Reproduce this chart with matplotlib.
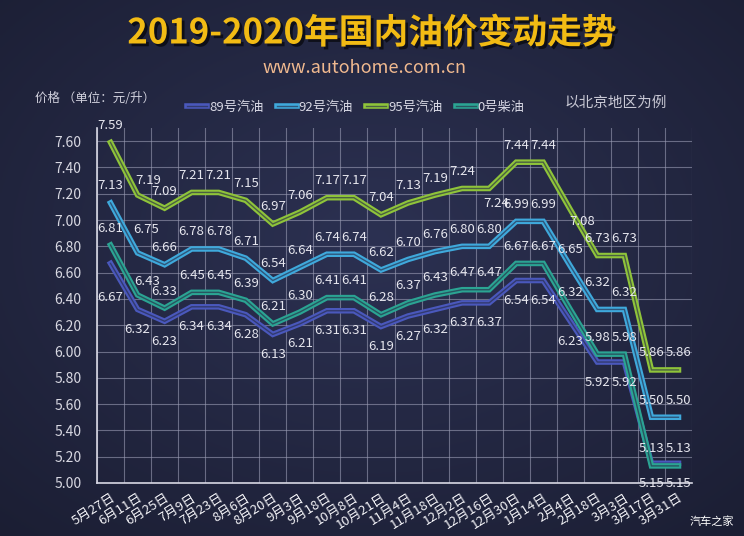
import numpy as np
import matplotlib
matplotlib.use('Agg')
import matplotlib.pyplot as plt
import matplotlib.patheffects as pe
from matplotlib.colors import to_rgb

plt.rcParams['font.family'] = ['Noto Sans CJK SC', 'DejaVu Sans']

dates = ['5月27日', '6月11日', '6月25日', '7月9日', '7月23日', '8月6日', '8月20日',
         '9月3日', '9月18日', '10月8日', '10月21日', '11月4日', '11月18日', '12月2日',
         '12月16日', '12月30日', '1月14日', '2月4日', '2月18日', '3月3日', '3月17日', '3月31日']

p89 = [6.67, 6.32, 6.23, 6.34, 6.34, 6.28, 6.13, 6.21, 6.31, 6.31, 6.19,
       6.27, 6.32, 6.37, 6.37, 6.54, 6.54, 6.23, 5.92, 5.92, 5.15, 5.15]
p92 = [7.13, 6.75, 6.66, 6.78, 6.78, 6.71, 6.54, 6.64, 6.74, 6.74, 6.62,
       6.70, 6.76, 6.80, 6.80, 6.99, 6.99, 6.65, 6.32, 6.32, 5.50, 5.50]
p95 = [7.59, 7.19, 7.09, 7.21, 7.21, 7.15, 6.97, 7.06, 7.17, 7.17, 7.04,
       7.13, 7.19, 7.24, 7.24, 7.44, 7.44, 7.08, 6.73, 6.73, 5.86, 5.86]
p0 = [6.81, 6.43, 6.33, 6.45, 6.45, 6.39, 6.21, 6.30, 6.41, 6.41, 6.28,
      6.37, 6.43, 6.47, 6.47, 6.67, 6.67, 6.32, 5.98, 5.98, 5.13, 5.13]

series = [('89号汽油', p89, '#4a58bc', -20),
          ('92号汽油', p92, '#3fa9dc', 17),
          ('95号汽油', p95, '#8fc43a', 17),
          ('0号柴油', p0, '#2ba493', 17)]

# label nudges (pixels) where the original layout moved labels
nudge = {('95号汽油', 1): (11, 15), ('92号汽油', 1): (9, 23), ('0号柴油', 1): (10, 13),
         ('95号汽油', 17): (12, -12), ('95号汽油', 14): (7, -15),
         ('89号汽油', 0): (0, -34), ('92号汽油', 18): (0, 27)}

bg = '#252a45'
fig = plt.figure(figsize=(7.44, 5.36), dpi=100, facecolor=bg)

# soft vignette background
bax = fig.add_axes([0, 0, 1, 1], zorder=-10)
yy, xx = np.mgrid[0:1:200j, 0:1:280j]
r = np.sqrt((xx - 0.5) ** 2 + (yy - 0.45) ** 2)
c1 = np.array(to_rgb('#2c3152'))
c2 = np.array(to_rgb('#1b1e33'))
t = np.clip(r / 0.75, 0, 1)[..., None]
bax.imshow(c1 * (1 - t) + c2 * t, aspect='auto', extent=(0, 1, 0, 1))
bax.axis('off')

ax = fig.add_axes([97 / 744, 53 / 536, 595 / 744, 355 / 536])
ax.set_facecolor('none')
x = np.arange(len(dates))

for name, vals, col, dy in series:
    cc = np.array(to_rgb(col))
    inner = tuple(cc * 0.35 + np.array(to_rgb(bg)) * 0.65)
    ax.plot(x, vals, color=inner, lw=1.0, label=name, solid_joinstyle='miter',
            path_effects=[pe.Stroke(linewidth=4.0, foreground=col), pe.Normal()], zorder=3)
    for i, v in enumerate(vals):
        ox, oy = nudge.get((name, i), (0, dy))
        ax.annotate(f'{v:.2f}', (x[i], v), xytext=(ox, oy), textcoords='offset pixels',
                    ha='center', va='center', fontsize=9.5, color='#e6e6ee', zorder=4)

ax.set_xlim(-0.5, len(dates) - 0.5)
ax.set_ylim(5.0, 7.7)
ax.set_yticks(np.arange(5.0, 7.61, 0.2))
ax.set_yticklabels([f'{v:.2f}' for v in np.arange(5.0, 7.61, 0.2)])
ax.set_xticks(x)
ax.set_xticklabels(dates, rotation=32, ha='right', rotation_mode='anchor')
ax.set_xticks(np.arange(-0.5, len(dates), 1.0), minor=True)
ax.tick_params(axis='both', which='both', length=0)
ax.tick_params(axis='y', colors='#d8d8e2', labelsize=10, pad=11)
ax.tick_params(axis='x', colors='#f2f2f6', labelsize=9.5, pad=6)
ax.grid(axis='y', which='major', color='#9a9cb4', lw=0.8, alpha=0.6)
ax.grid(axis='x', which='minor', color='#9a9cb4', lw=0.8, alpha=0.6)
for s in ['top', 'right']:
    ax.spines[s].set_visible(False)
for s in ['left', 'bottom']:
    ax.spines[s].set_color('#d8d8e4')
    ax.spines[s].set_linewidth(1.2)

fig.legend(loc='center', bbox_to_anchor=(356 / 744, 1 - 107 / 536), ncol=4, frameon=False,
           fontsize=9.5, labelcolor='#d8d8e4', handlelength=1.5, handletextpad=0.15,
           columnspacing=1.0)

fig.text(0.5, 1 - 33 / 536, '2019-2020年国内油价变动走势', ha='center', va='center',
         fontsize=25, fontweight='bold', color='#f2bb14',
         path_effects=[pe.withSimplePatchShadow(offset=(2, -2), shadow_rgbFace='black', alpha=0.6)])
fig.text(0.49, 1 - 68 / 536, 'www.autohome.com.cn', ha='center', va='center',
         fontsize=13, color='#f0b98f')
fig.text(35 / 744, 1 - 98 / 536, '价格 （单位：元/升）', ha='left', va='center',
         fontsize=9, color='#d0d0dc')
fig.text(565 / 744, 1 - 103 / 536, '以北京地区为例', ha='left', va='center',
         fontsize=10.5, color='#c8c8d4')
fig.text(712 / 744, 1 - 522 / 536, '汽车之家', ha='center', va='center',
         fontsize=8, color='white')

fig.savefig('out.png', dpi=100, facecolor=bg)
